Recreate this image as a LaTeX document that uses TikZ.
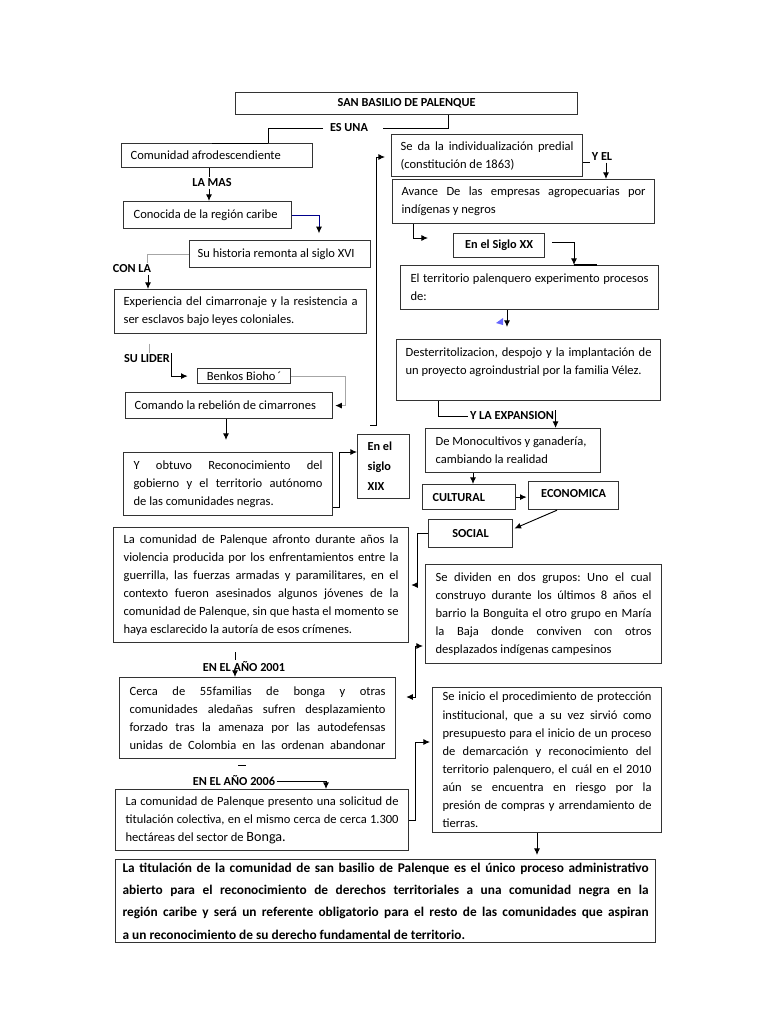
\documentclass[tikz,border=0pt]{standalone}
\usepackage{fontspec}
\setmainfont{Carlito}
\usetikzlibrary{arrows.meta}
\frenchspacing
\tikzset{
    blk/.style={draw=black!80,line width=0.9pt,anchor=north west,inner xsep=6.75pt,inner ysep=0pt,
        align=justify,font=\fontsize{9.4}{13.6}\selectfont},
    hdr/.style={blk,font=\bfseries\fontsize{9.2}{15}\selectfont},
    ctr/.style={draw=black!80,line width=0.9pt,anchor=north west,inner sep=0pt,
        font=\bfseries\fontsize{9.2}{11}\selectfont},
    lbl/.style={inner sep=1pt,font=\bfseries\fontsize{9.2}{11}\selectfont},
    link/.style={line width=0.7pt},
    arr/.style={link,-{Latex[length=5pt,width=4.5pt]}},
    gry/.style={link,draw=black!35},
    }

\begin{document}
\begin{tikzpicture}[x=0.75pt,y=-0.75pt]
    \useasboundingbox (0,0) rectangle (768,1024);
    % left column
    \node[ctr,minimum width=256.5pt,minimum height=16.5pt] (title) at (235,92) {SAN BASILIO DE PALENQUE};
    \node[blk,text width=129.75pt,minimum height=18pt] (cad) at (121,143) {Comunidad afrodescendiente};
    \node[blk,text width=111pt,minimum height=20.25pt,inner xsep=7.5pt] (conocida) at (123,201) {Conocida de la región caribe};
    \node[blk,text width=123.75pt,minimum height=20.25pt,inner xsep=6pt] (historia) at (189,240) {Su historia remonta al siglo XVI};
    \node[blk,text width=175.5pt,minimum height=33pt] (experiencia) at (114,289)
        {Experiencia del cimarronaje y la resistencia a\linebreak ser esclavos bajo leyes coloniales.};
    \node[ctr,font=\fontsize{9.4}{13.6}\selectfont,minimum width=69.75pt,minimum height=11.25pt] (benkos) at (197,368) {Benkos Bioho\,´};
    \node[blk,text width=141.75pt,minimum height=19.5pt,inner xsep=6.75pt] (comando) at (125,392) {Comando la rebelión de cimarrones};
    \node[blk,text width=141.75pt,minimum height=47.25pt,inner xsep=7.5pt] (obtuvo) at (123,452)
        {Y obtuvo Reconocimiento del\linebreak gobierno y el territorio autónomo\linebreak de las comunidades negras.};
    \node[hdr,text width=24pt,minimum height=48pt,inner xsep=7.5pt] (xix) at (357,434) {En el\newline siglo\newline XIX};

    % right column
    \node[blk,text width=129.75pt,minimum height=31.5pt] (seda) at (391,134)
        {Se da la individualización predial\linebreak (constitución de 1863)};
    \node[blk,text width=183pt,minimum height=33pt] (avance) at (392,179)
        {Avance De las empresas agropecuarias por\linebreak indígenas y negros};
    \node[ctr,minimum width=68.25pt,minimum height=18pt] (sxx) at (453,233) {En el Siglo XX};
    \node[blk,text width=178.5pt,minimum height=33pt,inner xsep=7.5pt] (territorio) at (400,265)
        {El territorio palenquero experimento procesos\linebreak de:};
    \node[blk,text width=184.5pt,minimum height=45.75pt] (dester) at (396,339)
        {Desterritolizacion, despojo y la implantación de\linebreak un proyecto agroindustrial por la familia Vélez.\par\mbox{}};
    \node[blk,text width=116.25pt,minimum height=33pt,inner xsep=7.5pt] (mono) at (425,428)
        {De Monocultivos y ganadería,\newline cambiando la realidad};
    \node[hdr,text width=54.75pt,minimum height=18.75pt,inner xsep=7.5pt] (cultural) at (422,484) {CULTURAL};
    \node[ctr,minimum width=67.5pt,minimum height=21pt,text height=6.5pt,text depth=4pt] (economica) at (528,481) {ECONOMICA};
    \node[ctr,minimum width=63pt,minimum height=21pt] (social) at (428,519) {SOCIAL};

    % lower part
    \node[blk,text width=206.25pt,minimum height=86.25pt,inner xsep=7.5pt] (palenque) at (113,527)
        {La comunidad de Palenque afronto durante años la\linebreak
         violencia producida por los enfrentamientos entre la\linebreak
         guerrilla, las fuerzas armadas y paramilitares, en el\linebreak
         contexto fueron asesinados algunos jóvenes de la\linebreak
         comunidad de Palenque, sin que hasta el momento se\linebreak
         haya esclarecido la autoría de esos crímenes.};
    \node[blk,text width=162pt,minimum height=74.25pt,inner xsep=7.5pt] (dividen) at (425,564)
        {Se dividen en dos grupos: Uno el cual\linebreak
         construyo durante los últimos 8 años el\linebreak
         barrio la Bonguita el otro grupo en María\linebreak
         la Baja donde conviven con otros\linebreak
         desplazados indígenas campesinos};
    \node[blk,text width=192pt,minimum height=60.75pt,inner xsep=7.5pt] (cerca) at (119,677)
        {\parfillskip=0pt Cerca de 55familias de bonga y otras\linebreak
         comunidades aledañas sufren desplazamiento\linebreak
         forzado tras la amenaza por las autodefensas\linebreak
         unidas de Colombia en las ordenan abandonar\par};
    \node[blk,text width=156.75pt,minimum height=108.75pt,inner xsep=7.5pt] (inicio) at (432,687)
        {Se inicio el procedimiento de protección\linebreak
         institucional, que a su vez sirvió como\linebreak
         presupuesto para el inicio de un proceso\linebreak
         de demarcación y reconocimiento del\linebreak
         territorio palenquero, el cuál en el 2010\linebreak
         aún se encuentra en riesgo por la\linebreak
         presión de compras y arrendamiento de\linebreak
         tierras.};
    \node[blk,text width=204.75pt,minimum height=45.75pt,inner xsep=7.5pt] (bonga) at (115,789)
        {La comunidad de Palenque presento una solicitud de\linebreak
         titulación colectiva, en el mismo cerca de cerca 1.300\linebreak
         hectáreas del sector de {\fontsize{10.6}{13.6}\selectfont Bonga.}};
    \node[blk,text width=394.5pt,minimum height=62.25pt,inner xsep=5.25pt,
        font=\bfseries\fontsize{10}{16.7}\selectfont] (final) at (115,859)
        {La titulación de la comunidad de san basilio de Palenque es el único proceso administrativo\linebreak
         abierto para el reconocimiento de derechos territoriales a una comunidad negra en la\linebreak
         región caribe y será un referente obligatorio para el resto de las comunidades que aspiran\linebreak
         a un reconocimiento de su derecho fundamental de territorio.};

    % labels
    \node[lbl] (esuna) at (349,128) {ES UNA};
    \node[lbl] (lamas) at (212,183) {LA MAS};
    \node[lbl] (conla) at (132,269) {CON LA};
    \node[lbl] (sulider) at (147,359) {SU LIDER};
    \node[lbl] (yel) at (602,157) {Y EL};
    \node[lbl] (yla) at (512,416) {Y LA EXPANSION};
    \node[lbl] (an2001) at (244,667) {EN EL AÑO 2001};
    \node[lbl] (an2006) at (234,781) {EN EL AÑO 2006};
    \coordinate (xixtop) at (370,425);
    \coordinate (sxxin) at (428,238);

    % connectors
    \draw[link] (title.south -| 448,0) |- ([xshift=10pt]esuna.east);
    \draw[link] ([xshift=-4pt]esuna.west) -| (cad.north -| 268,0);
    \draw[link] (cad.north -| 212,0) -- (cad.north -| 268,0);
    \draw[link] (cad.south -| 209,0) -- (209,0 |- lamas.north);
    \draw[arr] (209,0 |- lamas.south) -- (209,0 |- conocida.north);
    \draw[link,draw=blue!55!black,-{Latex[length=5pt,width=4.5pt,black]},shorten >=5pt] (conocida.east) -| (historia.north -| 319,0);
    \draw[gry] (historia.west) -| (147,0 |- conla.north);
    \draw[arr] (148,0 |- conla.south) -- (148,0 |- experiencia.north);
    \draw[gry] ([yshift=-7pt]experiencia.south -| 149,0) -- (149,0 |- sulider.north);
    \draw[arr,shorten >=7pt] (sulider.north east) |- (benkos.west);
    \draw[gry,-{Latex[length=5pt,width=4.5pt,black]},shorten >=1.5pt] (benkos.east) -| (345,0 |- comando.east) -- (comando.east);
    \draw[arr,shorten >=9pt] (comando.south -| 226,0) -- (226,0 |- obtuvo.north);
    \draw[arr] (obtuvo.east |- 0,507) -| (339,452) -- (xix.west |- 0,452);
    \draw[arr,shorten >=4.5pt] (xixtop) -- (376,425) |- (seda.west |- 0,157);
    \draw[link] (seda.east |- yel.south) -- (yel.south west);
    \draw[arr] (606,0 |- yel.south) -- (606,0 |- avance.north);
    \draw[arr] (avance.south -| 413,0) |- (sxxin);
    \draw[arr,shorten <=5pt] (sxx.east |- 0,242) -| (territorio.north -| 574,0);
    \draw[line width=1.3pt] (territorio.north -| 574,0) -- (territorio.north -| 597,0);
    \draw[arr,shorten >=9pt] (territorio.south -| 507,0) -- (507,0 |- dester.north);
    \fill[blue!60] (496,323) -- (503,318) -- (503,325) -- cycle;
    \draw[link] (dester.south -| 438,0) |- (yla.west);
    \draw[arr] (yla.north east) -- (yla.north east |- mono.north);
    \draw[arr] (mono.south -| 473,0) -- (473,0 |- cultural.north);
    \draw[arr,shorten >=1pt] (cultural.east) -- (economica.west |- cultural.east);
    \draw[arr,shorten >=1pt] (economica.south -| 557,0) -- (social.east |- 0,529);
    \draw[arr,shorten >=1.5pt] (social.west) -| (417,585) -- (palenque.east |- 0,585);
    \draw[link,{Latex[length=5pt,width=4.5pt]}-{Latex[length=5pt,width=4.5pt]},shorten <=7.5pt,shorten >=1.5pt]
        (cerca.east |- 0,697) -| (415,646) -- (dividen.west |- 0,646);
    \draw[arr,shorten >=1.5pt] (bonga.east |- 0,820) -| (415,742) -- (inicio.west |- 0,742);
    \draw[link] (235,652) -- (235,0 |- an2001.north);
    \draw[arr] (235,0 |- an2001.south) -- (235,0 |- cerca.north);
    \draw[link] ([yshift=-4.5pt]cerca.south -| 238,0) -- ([yshift=-4.5pt]cerca.south -| 246,0);
    \draw[arr] (an2006.east) -| (326,0 |- bonga.north);
    \draw[arr,shorten >=3pt] (inicio.south -| 537,0) -- (537,0 |- final.north);
\end{tikzpicture}
\end{document}
